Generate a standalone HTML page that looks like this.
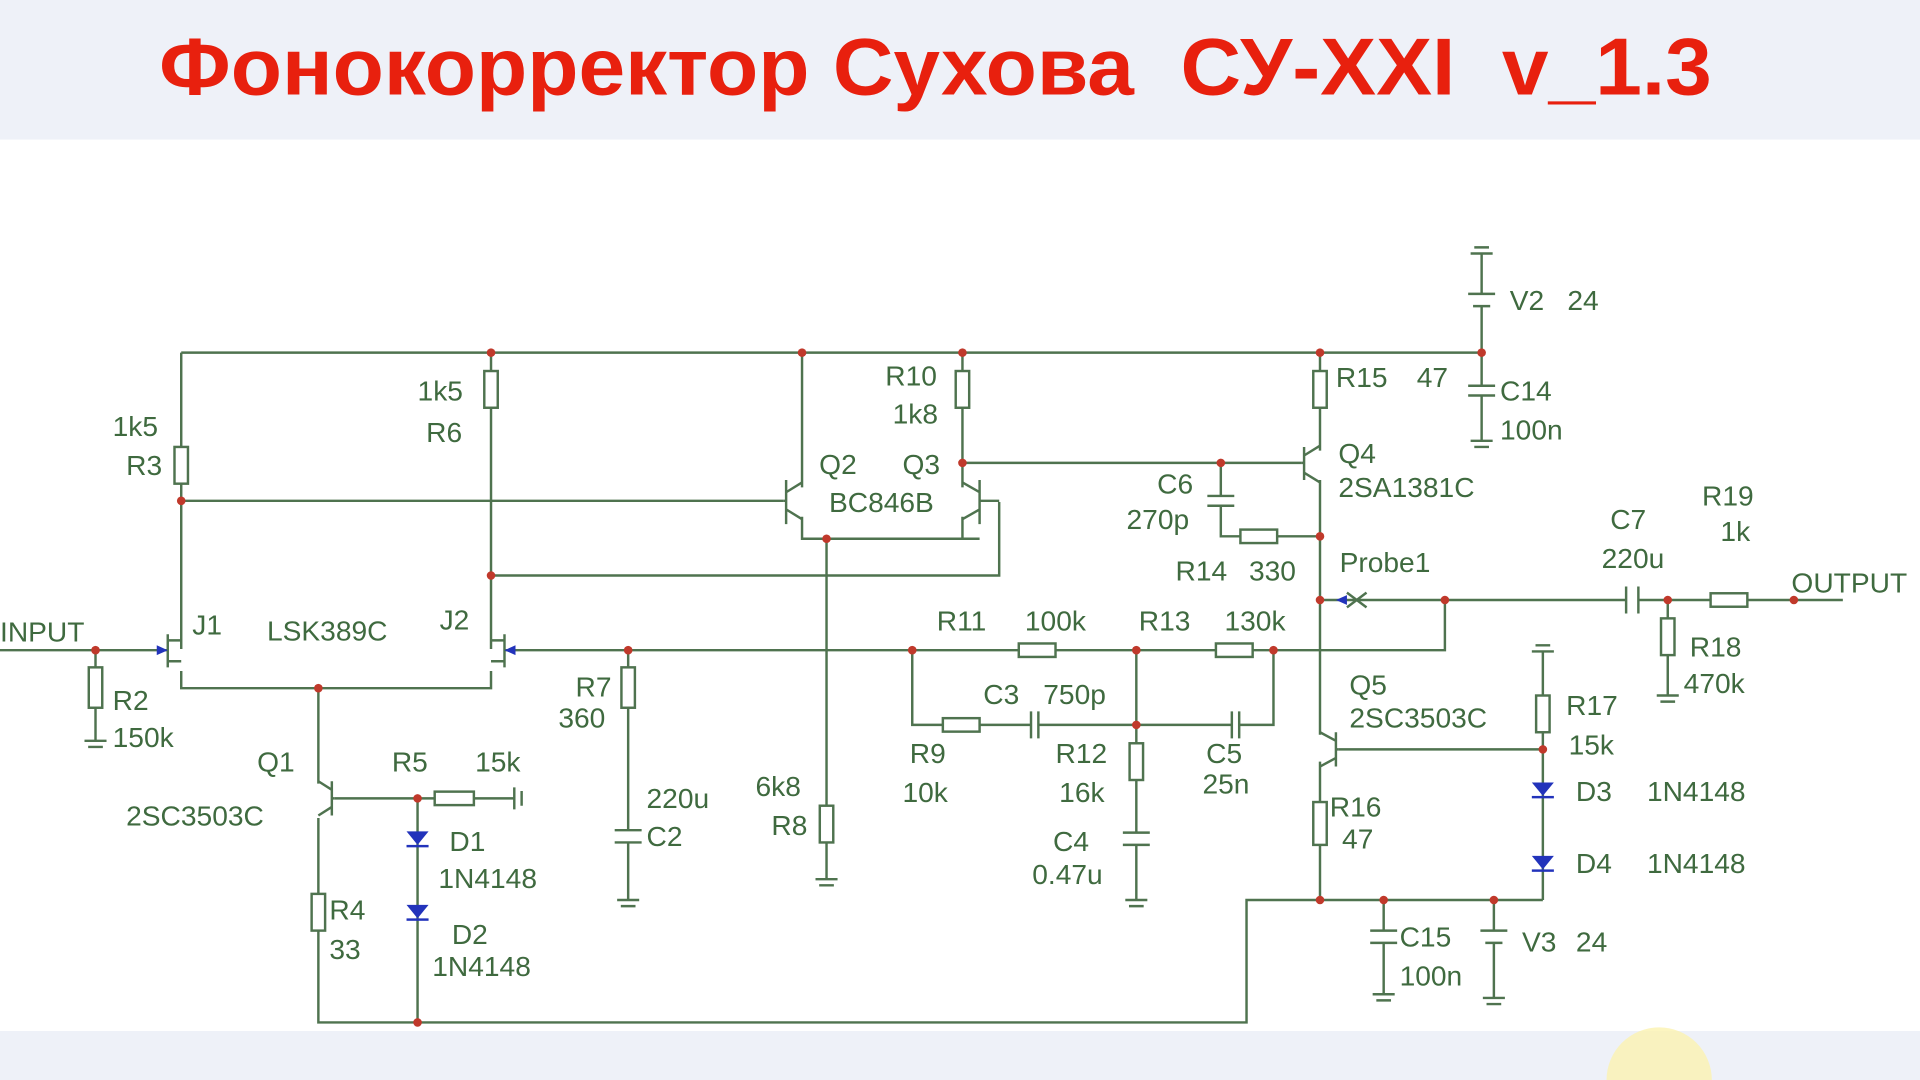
<!DOCTYPE html>
<html><head><meta charset="utf-8"><style>
html,body{margin:0;padding:0;width:1920px;height:1080px;overflow:hidden;background:#fff}
svg{display:block;overflow:hidden}
text{font-family:"Liberation Sans","DejaVu Sans",sans-serif}
</style></head><body>
<svg width="1920" height="1080" viewBox="0 0 1568 882" preserveAspectRatio="none" xmlns="http://www.w3.org/2000/svg">
<rect x="0" y="0" width="1568" height="114" fill="#eef1f8"/>
<rect x="0" y="842" width="1568" height="40" fill="#eef1f8"/>
<path d="M1312 882A43 43 0 0 1 1398 882Z" fill="#fbf3b0" opacity="0.8"/>
<text x="130" y="77" font-size="66" font-weight="bold" fill="#e8200e" textLength="1268" lengthAdjust="spacingAndGlyphs" xml:space="preserve" style="white-space:pre">Фонокорректор Сухова  СУ-XXI  v_1.3</text>

<g stroke="#4f734f" stroke-width="2" fill="none">
<path d="M148 288H1210"/>
<path d="M148 288V365M148 395V530M148 409H640"/>
<path d="M401 288V303M401 333V530M401 470H816V410"/>
<path d="M148 548V562H401V548"/>
<path d="M0 531H130M78 531V545M78 578V605"/>
<path d="M420 531H1040M1040 531H1180V490"/>
<path d="M260 562V640M260 668V730M260 760V835H1018V735H1260"/>
<path d="M273 652H355M387 652H420"/>
<path d="M341 652V835"/>
<path d="M513 531V545M513 578V678M513 688V735"/>
<path d="M745 531V592H770M800 592H842M848 592H1006M1012 592H1040V531"/>
<path d="M928 531V607M928 637V680M928 690V735"/>
<path d="M675 440V658M675 688V718"/>
<path d="M655 288V398M655 422V440H800M786 422V440M786 288V303M786 333V398"/>
<path d="M786 378H1063"/>
<path d="M997 378V405M997 413V438H1013M1043 438H1078"/>
<path d="M1078 288V303M1078 333V368M1078 392V600M1078 622V655M1078 690V735"/>
<path d="M1093 612H1260"/>
<path d="M1078 490H1328M1338 490H1397M1427 490H1505"/>
<path d="M1260 532V568M1260 598V735"/>
<path d="M1130 735V760M1130 770V812"/>
<path d="M1220 735V760M1220 770V815"/>
<path d="M1210 207V240M1210 250V288V315M1210 323V360"/>
<path d="M1362 490V505M1362 535V568"/>
<path d="M642 392V428M642 409H640M642 402L655 394M642 416L655 424"/>
<path d="M800 392V428M800 409H816M800 402L786 394M800 416L786 424"/>
<path d="M1065 365V392M1063 378H1065M1065 372L1078 364M1065 386L1078 394"/>
<path d="M1091 598V626M1093 612H1091M1091 605L1078 598M1091 619L1078 626"/>
<path d="M271 638V666M273 652H271M271 645L260 638M271 659L260 666"/>
<path d="M137 518V545M137 523H148M137 540H148M130 531H137"/>
<path d="M412 518V545M412 523H401M412 540H401M420 531H412"/>
<rect x="142.5" y="365" width="11" height="30"/>
<rect x="395.5" y="303" width="11" height="30"/>
<rect x="72.5" y="545" width="11" height="33"/>
<rect x="254.5" y="730" width="11" height="30"/>
<rect x="355" y="646.5" width="32" height="11"/>
<rect x="507.5" y="545" width="11" height="33"/>
<rect x="669.5" y="658" width="11" height="30"/>
<rect x="780.5" y="303" width="11" height="30"/>
<rect x="832" y="525.5" width="30" height="11" fill="#fff"/>
<rect x="993" y="525.5" width="30" height="11" fill="#fff"/>
<rect x="770" y="586.5" width="30" height="11"/>
<rect x="922.5" y="607" width="11" height="30"/>
<rect x="1013" y="432.5" width="30" height="11"/>
<rect x="1072.5" y="303" width="11" height="30"/>
<rect x="1072.5" y="655" width="11" height="35"/>
<rect x="1254.5" y="568" width="11" height="30"/>
<rect x="1397" y="484.5" width="30" height="11"/>
<rect x="1356.5" y="505" width="11" height="30"/>
<path d="M502 678H524M502 688H524"/>
<path d="M842 581V603M848 581V603"/>
<path d="M1006 581V603M1012 581V603"/>
<path d="M917 680H939M917 690H939"/>
<path d="M986 405H1008M986 413H1008"/>
<path d="M1328 479V501M1338 479V501"/>
<path d="M1119 760H1141M1119 770H1141"/>
<path d="M1199 315H1221M1199 323H1221"/>
<path d="M1209 760H1231M1213 770H1227"/>
<path d="M1199 240H1221M1203 250H1217"/>
<path d="M420 643V661M426 646V658"/>
<path d="M69 605H87M72 610H84"/>
<path d="M504 735H522M507 740H519"/>
<path d="M666 718H684M669 723H681"/>
<path d="M919 735H937M922 740H934"/>
<path d="M1121 812H1139M1124 817H1136"/>
<path d="M1211 815H1229M1214 820H1226"/>
<path d="M1201 207H1219M1204 202H1216"/>
<path d="M1201 360H1219M1204 365H1216"/>
<path d="M1353 568H1371M1356 573H1368"/>
<path d="M1251 532H1269M1254 527H1266"/>
<path d="M1100 484L1116 496M1100 496L1116 484"/>
</g>
<g fill="#2233bb">
<path d="M332 679H350L341 690Z"/><rect x="332" y="690" width="18" height="2"/>
<path d="M332 739H350L341 750Z"/><rect x="332" y="750" width="18" height="2"/>
<path d="M1251 639H1269L1260 650Z"/><rect x="1251" y="650" width="18" height="2"/>
<path d="M1251 699H1269L1260 710Z"/><rect x="1251" y="710" width="18" height="2"/>
<path d="M137 531L128 527V535Z"/><path d="M412 531L421 527V535Z"/>
<path d="M1091 490L1100 486V494Z"/>
</g>
<g fill="#c0392b">
<circle cx="401" cy="288" r="3.5"/><circle cx="655" cy="288" r="3.5"/><circle cx="786" cy="288" r="3.5"/><circle cx="1078" cy="288" r="3.5"/><circle cx="1210" cy="288" r="3.5"/>
<circle cx="148" cy="409" r="3.5"/><circle cx="401" cy="470" r="3.5"/><circle cx="78" cy="531" r="3.5"/><circle cx="260" cy="562" r="3.5"/>
<circle cx="513" cy="531" r="3.5"/><circle cx="745" cy="531" r="3.5"/><circle cx="928" cy="531" r="3.5"/><circle cx="1040" cy="531" r="3.5"/>
<circle cx="928" cy="592" r="3.5"/><circle cx="675" cy="440" r="3.5"/><circle cx="786" cy="378" r="3.5"/><circle cx="997" cy="378" r="3.5"/>
<circle cx="1078" cy="438" r="3.5"/><circle cx="1078" cy="490" r="3.5"/><circle cx="1180" cy="490" r="3.5"/><circle cx="1362" cy="490" r="3.5"/><circle cx="1465" cy="490" r="3.5"/>
<circle cx="1260" cy="612" r="3.5"/><circle cx="1078" cy="735" r="3.5"/><circle cx="1130" cy="735" r="3.5"/><circle cx="1220" cy="735" r="3.5"/>
<circle cx="341" cy="652" r="3.5"/><circle cx="341" cy="835" r="3.5"/>
</g>
<g font-size="23" fill="#3f6a3f">
<text x="92" y="356">1k5</text><text x="103" y="388">R3</text>
<text x="341" y="327">1k5</text><text x="348" y="361">R6</text>
<text x="0" y="524">INPUT</text><text x="92" y="580">R2</text><text x="92" y="610">150k</text>
<text x="157" y="518">J1</text><text x="218" y="523">LSK389C</text><text x="359" y="514">J2</text>
<text x="210" y="630">Q1</text><text x="103" y="674">2SC3503C</text>
<text x="320" y="630">R5</text><text x="388" y="630">15k</text>
<text x="367" y="695">D1</text><text x="358" y="725">1N4148</text>
<text x="369" y="771">D2</text><text x="353" y="797">1N4148</text>
<text x="269" y="751">R4</text><text x="269" y="783">33</text>
<text x="470" y="569">R7</text><text x="456" y="594">360</text>
<text x="528" y="660">220u</text><text x="528" y="691">C2</text>
<text x="617" y="650">6k8</text><text x="630" y="682">R8</text>
<text x="669" y="387">Q2</text><text x="677" y="418">BC846B</text><text x="737" y="387">Q3</text>
<text x="723" y="315">R10</text><text x="729" y="346">1k8</text>
<text x="765" y="515">R11</text><text x="837" y="515">100k</text>
<text x="930" y="515">R13</text><text x="1000" y="515">130k</text>
<text x="803" y="575">C3</text><text x="852" y="575">750p</text>
<text x="743" y="623">R9</text><text x="737" y="655">10k</text>
<text x="862" y="623">R12</text><text x="865" y="655">16k</text>
<text x="985" y="623">C5</text><text x="982" y="648">25n</text>
<text x="860" y="695">C4</text><text x="843" y="722">0.47u</text>
<text x="945" y="403">C6</text><text x="920" y="432">270p</text>
<text x="960" y="474">R14</text><text x="1020" y="474">330</text>
<text x="1091" y="316">R15</text><text x="1157" y="316">47</text>
<text x="1093" y="378">Q4</text><text x="1093" y="406">2SA1381C</text>
<text x="1233" y="253">V2</text><text x="1280" y="253">24</text>
<text x="1225" y="327">C14</text><text x="1225" y="359">100n</text>
<text x="1094" y="467">Probe1</text>
<text x="1315" y="432">C7</text><text x="1308" y="464">220u</text>
<text x="1390" y="413">R19</text><text x="1405" y="442">1k</text>
<text x="1463" y="484">OUTPUT</text>
<text x="1380" y="536">R18</text><text x="1375" y="566">470k</text>
<text x="1102" y="567">Q5</text><text x="1102" y="594">2SC3503C</text>
<text x="1279" y="584">R17</text><text x="1281" y="616">15k</text>
<text x="1287" y="654">D3</text><text x="1345" y="654">1N4148</text>
<text x="1287" y="713">D4</text><text x="1345" y="713">1N4148</text>
<text x="1086" y="667">R16</text><text x="1096" y="693">47</text>
<text x="1143" y="773">C15</text><text x="1143" y="805">100n</text>
<text x="1243" y="777">V3</text><text x="1287" y="777">24</text>
</g>
</svg>
</body></html>
